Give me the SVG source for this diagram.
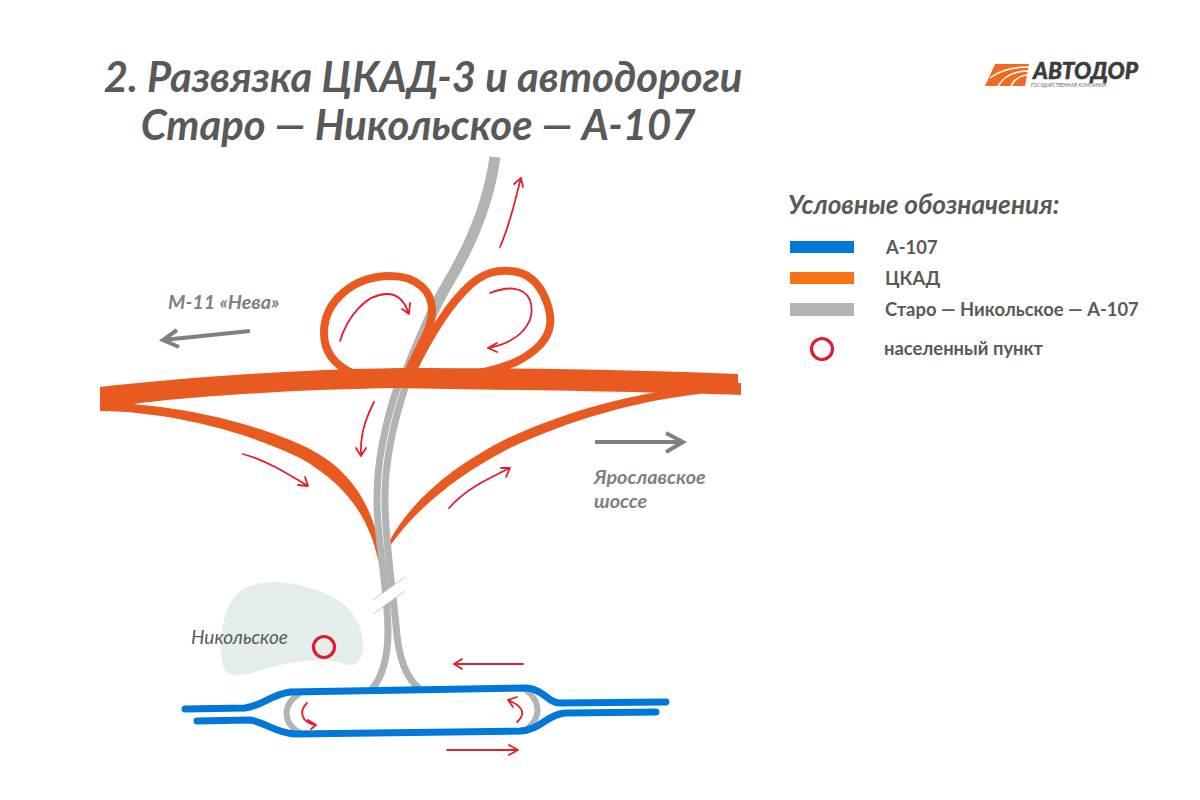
<svg xmlns="http://www.w3.org/2000/svg" width="1200" height="800" viewBox="0 0 1200 800">
<style>
text{font-family:Lato,"Open Sans","Noto Sans",sans-serif}
.t{font-size:41.8px;font-weight:700;font-style:italic;fill:#595959;text-anchor:middle}
.lg{font-size:18.4px;font-weight:700;fill:#595959}
.it{font-size:19.8px;font-weight:700;font-style:italic;fill:#808080}
.or{fill:none;stroke:#e95a20;stroke-width:8}
.orf{fill:#e95a20}
.gr{fill:none;stroke:#b2b4b2;stroke-width:7}
.bl{fill:none;stroke:#0078d7;stroke-width:7;stroke-linecap:round}
.r{fill:none;stroke:#e31e2d;stroke-width:1.8;stroke-linecap:round;stroke-linejoin:round}
.ga{fill:none;stroke:#808080;stroke-width:4}
.c{fill:none;stroke:#dc1f30;stroke-width:3.2}
</style>
<g id="title">
<text class="t" x="423" y="92">2. Развязка ЦКАД-3 и автодороги</text>
<text class="t" x="418" y="140">Старо — Никольское — А-107</text>
</g>
<g id="logo">
<path d="M995 64H1029L1025 86H985Z" fill="#f26a21"/>
<path d="M990 78C1000 70 1012 67 1029 67M998 86C1004 76 1014 71 1028 71M1011 86C1014 80 1019 76 1027 75" fill="none" stroke="#fff" stroke-width="1.6"/>
<text x="1033" y="79" font-size="22" font-weight="900" font-style="italic" fill="#3c3c3c" stroke="#3c3c3c" stroke-width="0.5" textLength="105" lengthAdjust="spacingAndGlyphs">АВТОДОР</text>
<text x="1031" y="87" font-size="5.2" fill="#666" textLength="75" lengthAdjust="spacingAndGlyphs">ГОСУДАРСТВЕННАЯ КОМПАНИЯ</text>
</g>
<g id="legend">
<text x="788" y="214" font-size="26.2" font-weight="700" font-style="italic" fill="#595959">Условные обозначения:</text>
<rect x="790" y="241" width="64" height="12" fill="#0078d7"/>
<rect x="790" y="272" width="64" height="12" fill="#f97316"/>
<rect x="790" y="303" width="64" height="13" fill="#b2b4b2"/>
<text class="lg" x="886" y="254">А-107</text>
<text class="lg" x="885" y="285">ЦКАД</text>
<text class="lg" x="885" y="316">Старо — Никольское — А-107</text>
<circle class="c" cx="822" cy="349" r="10.5"/>
<text class="lg" x="884" y="355">населенный пункт</text>
</g>
<g id="nikolskoe">
<path d="M221 650C221 625 226 598 245 588C268 577 300 584 322 592C345 601 360 617 363 640C364 655 360 666 348 665C330 658 305 660 285 664C265 668 245 677 233 675C224 673 221 665 221 650Z" fill="#e3edeb"/>
<text x="191" y="644" font-size="19" font-style="italic" fill="#595959">Никольское</text>
<circle class="c" cx="324" cy="647" r="10.5"/>
</g>
<g id="connectors">
<g id="grey-roads">
<path d="M495 157C489 200 471 245 448 283C433 308 420 340 408 370" fill="none" stroke="#b2b4b2" stroke-width="11"/>
<path class="orf" d="M100 403C180 403 258 425 304 446C350 468 376 505 382 565L378 560C370 522 350 486 300 458C255 436 180 412 100 411Z"/>
<path class="orf" d="M384 552C405 505 450 467 508 438C570 410 630 394 700 386L700 394C630 402 572 420 512 447C455 476 412 512 386 552Z"/>
<path class="gr" d="M398 385C386 420 376 460 377 505C378 545 387 585 388 630C388 655 384 675 372 689"/>
<path class="gr" d="M406 385C394 420 384 460 385 505C386 545 392 585 396 625C398 655 405 678 420 689"/>
<path d="M373 600L405 577V591L373 614Z" fill="#fff"/>
<path d="M373 600L405 577M373 614L405 591" stroke="#b9b9b9" stroke-width="0.8" fill="none"/>
</g>
<g id="ckad">
<path class="or" d="M352 373C333 364 324 350 324 333C324 300 355 276 390 276C418 276 432 292 432 310C432 330 420 345 408 372"/>
<path class="or" d="M412 372C425 345 445 308 470 285C485 272 497 270 510 271C530 272 540 285 546 300C553 318 552 332 540 345C525 360 510 366 480 373"/>
<path d="M100 387C180 378 280 370 400 368C520 368 640 370 738 374V383H741V395C650 392 520 390 390 388C290 390 200 396 140 403L100 411V402Z" fill="#e95a20"/>
</g>
<g id="a107">
<path d="M300 693C282 705 282 722 300 733M526 690C542 703 541 718 526 730" fill="none" stroke="#b2b4b2" stroke-width="6"/>
<path class="bl" d="M185 709L245 708C262 706 270 695 290 692L527 688C545 690 548 703 560 703L666 702"/>
<path class="bl" d="M197 721L250 720C265 722 275 733 295 734L520 731C540 730 548 714 565 713L656 712"/>
</g>
<g id="flow">
<path class="r" d="M340 341C347 318 365 294 387 294C398 294 405 302 408 312M402 309L409 314L410 303"/>
<path class="r" d="M490 293C505 287 523 285 530 300C537 322 520 342 488 348M497 343L488 348L497 352"/>
<path class="r" d="M500 247C510 225 515 200 521 178M514 184L521 178L523 187"/>
<path class="r" d="M374 402C365 420 360 435 361 456M356 448L361 456L366 448"/>
<path class="r" d="M243 454C265 460 285 472 308 486M298 485L308 486L305 477"/>
<path class="r" d="M449 508C465 490 485 480 510 468M501 468L510 468L506 477"/>
<path class="r" d="M307 703C298 712 302 723 316 725M308 720L316 725L311 729"/>
<path class="r" d="M517 722C528 712 520 705 508 700M517 697L508 700L513 707"/>
<path class="r" d="M523 664H454M462 659L454 664L462 669"/>
<path class="r" d="M447 750H518M509 745L518 750L509 755"/>
</g>
<g id="directions">
<path class="ga" d="M250 331L163 340M177 330L163 340L179 347"/>
<path class="ga" d="M595 442H683M666 433L683 442L666 452"/>
</g>
</g>
<text class="it" x="168" y="309">М-11 «Нева»</text>
<text class="it" x="594" y="484">Ярославское</text>
<text class="it" x="594" y="508">шоссе</text>
</svg>
